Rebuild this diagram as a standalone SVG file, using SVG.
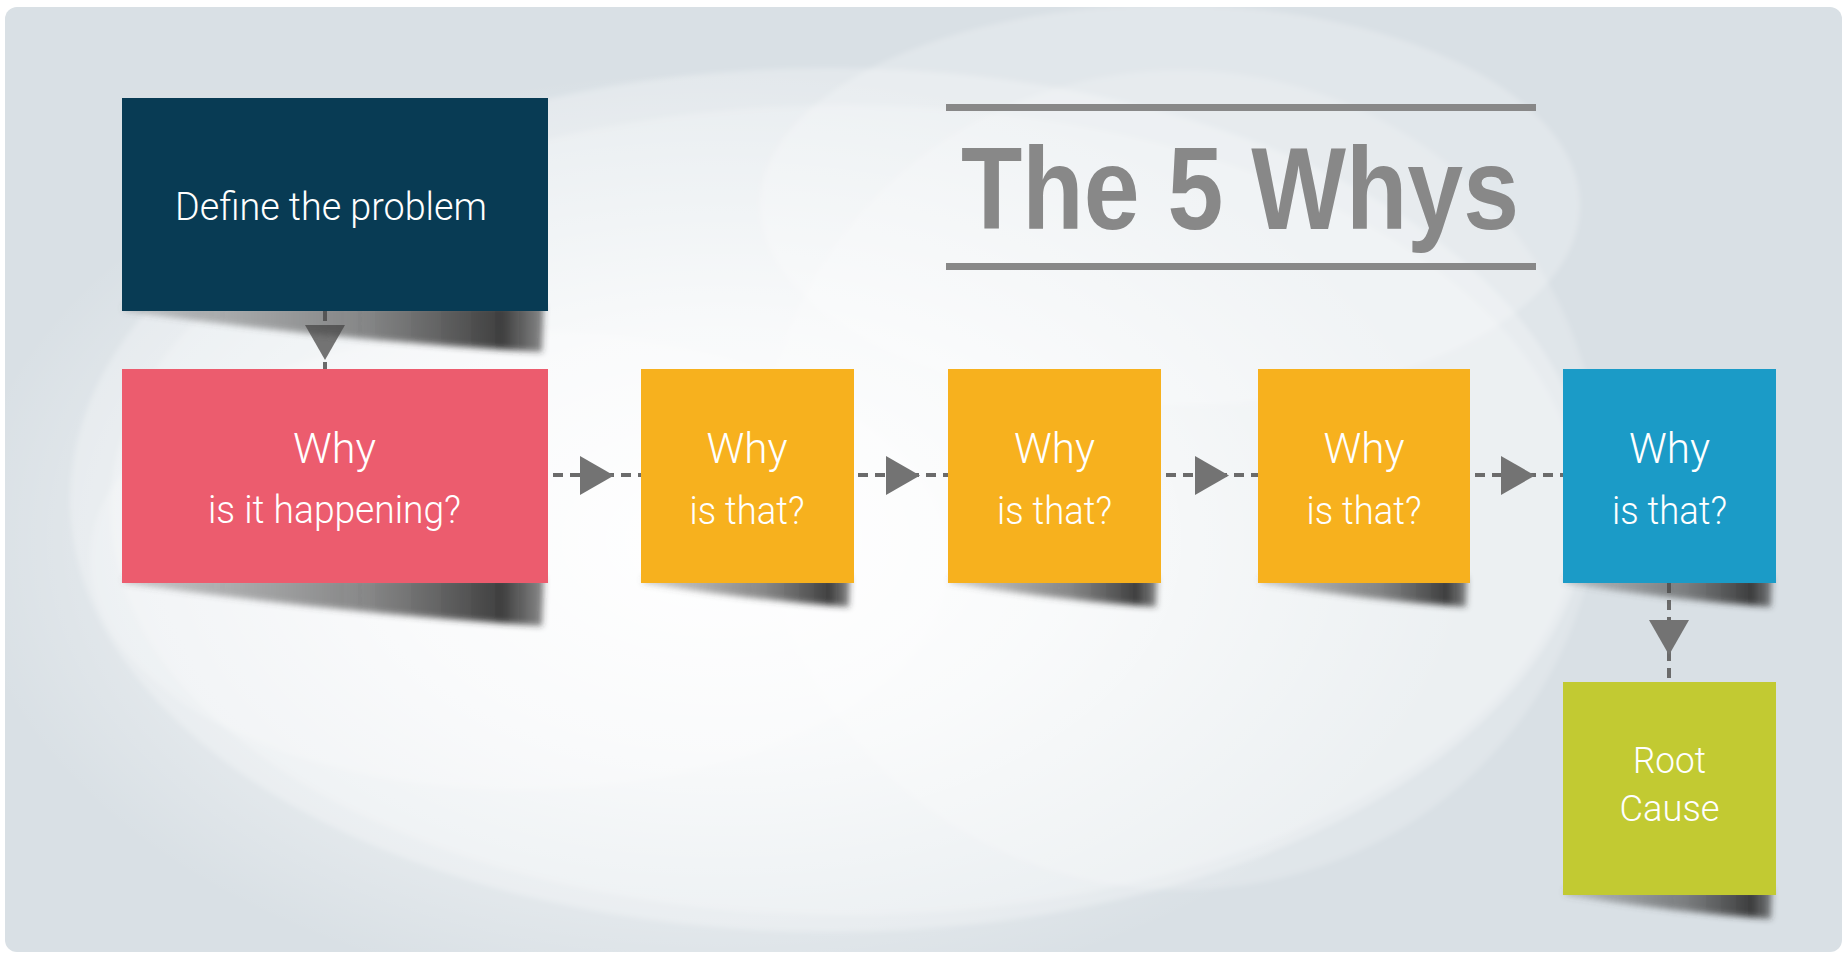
<svg xmlns="http://www.w3.org/2000/svg" width="1848" height="961" viewBox="0 0 1848 961">
  <style>
    .lbl { font-family: Roboto, "Noto Sans", "Liberation Sans", sans-serif; font-weight: 300; fill: #ffffff; text-anchor: middle; }
    .big { font-size: 43px; }
    .small { font-size: 38px; }
    .title { font-family: "Liberation Sans", Arial, sans-serif; font-weight: bold; font-size: 116px; fill: #888888; }
    .rule { fill: #888888; }
    .dash { stroke: #6b6b6b; stroke-width: 4; stroke-dasharray: 10 7; fill: none; }
    .head { fill: #737373; }
    .shadow { fill: url(#shadowGrad); filter: url(#blur); }
  </style>
  <defs>
    <clipPath id="panelClip">
      <rect x="5" y="7" width="1837" height="945" rx="12" ry="12"/>
    </clipPath>
    <radialGradient id="glow" cx="720" cy="540" r="760" gradientUnits="userSpaceOnUse" gradientTransform="translate(720 540) scale(1 0.62) translate(-720 -540)">
      <stop offset="0" stop-color="#ffffff" stop-opacity="1"/>
      <stop offset="0.45" stop-color="#ffffff" stop-opacity="0.7"/>
      <stop offset="1" stop-color="#ffffff" stop-opacity="0"/>
    </radialGradient>
    <linearGradient id="shadowGrad" x1="0" y1="0" x2="1" y2="0">
      <stop offset="0" stop-color="#555" stop-opacity="0.3"/>
      <stop offset="0.6" stop-color="#444" stop-opacity="0.65"/>
      <stop offset="0.9" stop-color="#2a2a2a" stop-opacity="0.9"/>
      <stop offset="1" stop-color="#2a2a2a" stop-opacity="0.55"/>
    </linearGradient>
    <filter id="blur" x="-10%" y="-60%" width="120%" height="220%">
      <feGaussianBlur stdDeviation="3"/>
    </filter>
    <filter id="soft" x="-5%" y="-5%" width="110%" height="110%">
      <feGaussianBlur stdDeviation="2.5"/>
    </filter>
  </defs>

  <!-- background panel -->
  <g id="background">
    <rect x="5" y="7" width="1837" height="945" rx="12" ry="12" fill="#d9e0e5"/>
    <g clip-path="url(#panelClip)">
      <g filter="url(#soft)">
        <ellipse cx="830" cy="500" rx="760" ry="432" fill="#ffffff" fill-opacity="0.26"/>
        <ellipse cx="845" cy="510" rx="735" ry="405" fill="#ffffff" fill-opacity="0.2"/>
        <ellipse cx="1170" cy="205" rx="410" ry="200" fill="#ffffff" fill-opacity="0.22"/>
        <ellipse cx="1180" cy="480" rx="420" ry="410" fill="#ffffff" fill-opacity="0.18"/>
        <ellipse cx="520" cy="560" rx="430" ry="230" fill="#ffffff" fill-opacity="0.2"/>
      </g>
      <rect x="5" y="7" width="1837" height="945" fill="url(#glow)"/>
    </g>
  </g>

  <!-- title -->
  <g id="title">
    <rect class="rule" x="946" y="104" width="590" height="7"/>
    <text class="title" x="961" y="229" textLength="558" lengthAdjust="spacingAndGlyphs">The 5 Whys</text>
    <rect class="rule" x="946" y="263" width="590" height="7"/>
  </g>

  <!-- connectors -->
  <g id="connectors">
    <line class="dash" x1="325" y1="311" x2="325" y2="369"/>
    <polygon class="head" points="305,325 345,325 325,360"/>

    <line class="dash" x1="553" y1="475" x2="641" y2="475"/>
    <polygon class="head" points="580,456 580,495 614,475.5"/>

    <line class="dash" x1="858" y1="475" x2="948" y2="475"/>
    <polygon class="head" points="886,456 886,495 920,475.5"/>

    <line class="dash" x1="1166" y1="475" x2="1258" y2="475"/>
    <polygon class="head" points="1195,456 1195,495 1229,475.5"/>

    <line class="dash" x1="1475" y1="475" x2="1563" y2="475"/>
    <polygon class="head" points="1501,456 1501,495 1535,475.5"/>

    <line class="dash" x1="1669" y1="583" x2="1669" y2="682"/>
    <polygon class="head" points="1649,620 1689,620 1669,655"/>
  </g>

  <!-- nodes -->
  <g id="node-define">
    <path class="shadow" d="M124,305 L544,305 L542,352 Q330,340 124,311 Z"/>
    <rect x="122" y="98" width="426" height="213" fill="#083b54"/>
    <text class="lbl small" x="331" y="220" textLength="312" lengthAdjust="spacingAndGlyphs">Define the problem</text>
  </g>

  <g id="node-why1">
    <path class="shadow" d="M124,577 L544,577 L542,626 Q330,612 124,583 Z"/>
    <rect x="122" y="369" width="426" height="214" fill="#ec5c6e"/>
    <text class="lbl big" x="334.5" y="462.5" textLength="83" lengthAdjust="spacingAndGlyphs">Why</text>
    <text class="lbl small" x="334.5" y="523" textLength="253" lengthAdjust="spacingAndGlyphs">is it happening?</text>
  </g>

  <g id="node-why2">
    <path class="shadow" d="M643,577 L850,577 L849,607 Q750,600 643,583 Z"/>
    <rect x="641" y="369" width="213" height="214" fill="#f7b11e"/>
    <text class="lbl big" x="747" y="463" textLength="81" lengthAdjust="spacingAndGlyphs">Why</text>
    <text class="lbl small" x="747" y="524" textLength="115" lengthAdjust="spacingAndGlyphs">is that?</text>
  </g>

  <g id="node-why3">
    <path class="shadow" d="M950,577 L1157,577 L1156,607 Q1057,600 950,583 Z"/>
    <rect x="948" y="369" width="213" height="214" fill="#f7b11e"/>
    <text class="lbl big" x="1054.5" y="463" textLength="81" lengthAdjust="spacingAndGlyphs">Why</text>
    <text class="lbl small" x="1054.5" y="524" textLength="115" lengthAdjust="spacingAndGlyphs">is that?</text>
  </g>

  <g id="node-why4">
    <path class="shadow" d="M1260,577 L1467,577 L1466,607 Q1367,600 1260,583 Z"/>
    <rect x="1258" y="369" width="212" height="214" fill="#f7b11e"/>
    <text class="lbl big" x="1364" y="463" textLength="81" lengthAdjust="spacingAndGlyphs">Why</text>
    <text class="lbl small" x="1364" y="524" textLength="115" lengthAdjust="spacingAndGlyphs">is that?</text>
  </g>

  <g id="node-why5">
    <path class="shadow" d="M1565,577 L1772,577 L1771,607 Q1672,600 1565,583 Z"/>
    <rect x="1563" y="369" width="213" height="214" fill="#1b9bc7"/>
    <text class="lbl big" x="1669.5" y="463" textLength="81" lengthAdjust="spacingAndGlyphs">Why</text>
    <text class="lbl small" x="1669.5" y="524" textLength="115" lengthAdjust="spacingAndGlyphs">is that?</text>
  </g>

  <g id="node-root">
    <path class="shadow" d="M1565,889 L1772,889 L1771,919 Q1672,912 1565,895 Z"/>
    <rect x="1563" y="682" width="213" height="213" fill="#c2ca32"/>
    <text class="lbl" style="font-size:37px" x="1669.5" y="773" textLength="73" lengthAdjust="spacingAndGlyphs">Root</text>
    <text class="lbl" style="font-size:37px" x="1669.5" y="820.5" textLength="100" lengthAdjust="spacingAndGlyphs">Cause</text>
  </g>
</svg>
